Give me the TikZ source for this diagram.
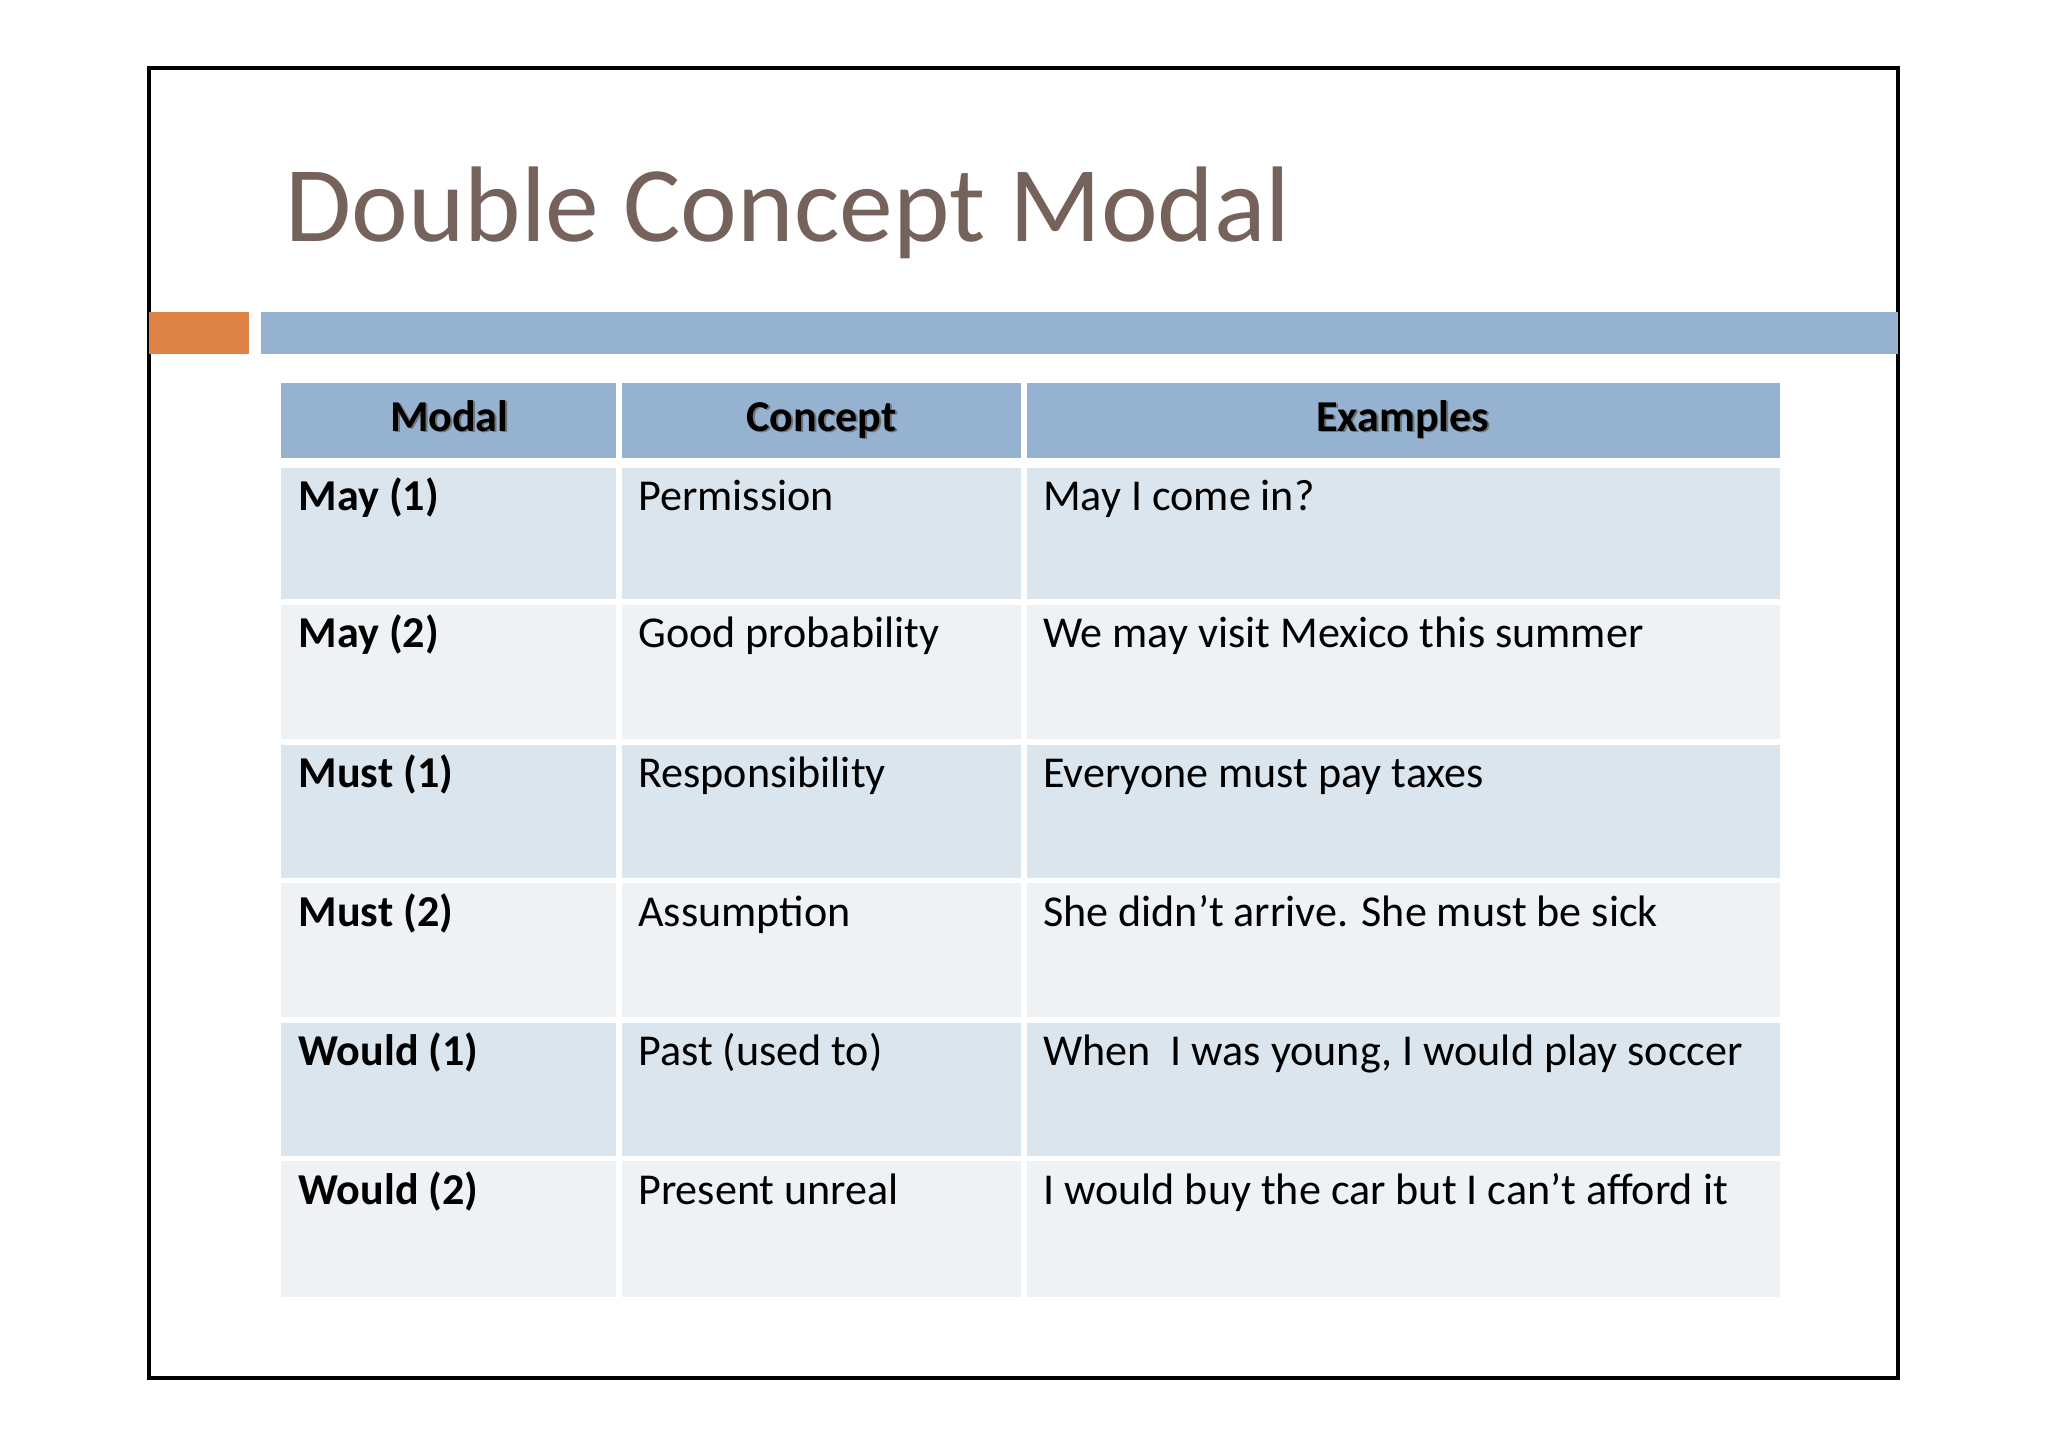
\documentclass[tikz,border=0pt]{standalone}
\usepackage{fontspec}
\setmainfont{Carlito}
\definecolor{titlebrown}{HTML}{75625A}
\definecolor{headblue}{HTML}{95B3D0}
\definecolor{rowdark}{HTML}{DBE5ED}
\definecolor{rowlight}{HTML}{EEF2F5}
\definecolor{barorange}{HTML}{DE8346}
\tikzset{
  cell/.style={draw=white,line width=1.2pt},
  body/.style={anchor=base west,inner sep=0pt,font=\fontsize{9.6pt}{11pt}\selectfont},
  head/.style={anchor=base,inner sep=0pt,font=\fontsize{9.6pt}{11pt}\selectfont\bfseries}
}
\begin{document}
\begin{tikzpicture}[x=0.01cm,y=-0.01cm]
\useasboundingbox (0,0) rectangle (1568,1108);
\draw [line width=0.9pt] (114,52) rectangle (1453,1055);
\node [anchor=base west,inner sep=0pt,text=titlebrown,font=\fontsize{23.4pt}{28pt}\selectfont] (title) at (218,185) {Double Concept Modal};
\fill [barorange] (114,239) rectangle (191,271);
\fill [headblue] (200,239) rectangle (1453,271);
% header
\fill [headblue] (215,293) rectangle (1363,351);
\draw [white,line width=1.2pt] (474,293) -- (474,351) (784,293) -- (784,351);
\foreach \x/\t [count=\i] in {344/Modal,629/Concept,1074/Examples}{
  \node [head,text=black!55] at (\x+1.5,330+1.5) {\t};
  \node [head] (h\i) at (\x,330) {\t};
}
% rows
\foreach \top/\a/\b/\c [count=\r] in {
  356/May (1)/Permission/May I come in?,
  461/May (2)/Good probability/We may visit Mexico this summer,
  568/Must (1)/Responsibility/Everyone must pay taxes,
  674/Must (2)/Assumption/{She didn’t arrive. She must be sick},
  781/Would (1)/Past (used to)/{When\ \ I was young, I would play soccer},
  887/Would (2)/Present unreal/I would buy the car but I can’t afford it}{
  \pgfmathsetmacro\bot{\top+106}
  \ifodd\r \def\fc{rowdark}\else\def\fc{rowlight}\fi
  \fill [\fc] (215,\top) rectangle (1363,\bot);
  \draw [cell] (215,\top) -- (1363,\top) (474,\top) -- (474,\bot) (784,\top) -- (784,\bot);
  \node [body,font=\fontsize{9.6pt}{11pt}\selectfont\bfseries] (m\r) at (228,\top+35) {\a};
  \node [body] (c\r) at (488,\top+35) {\b};
  \node [body] (e\r) at (798,\top+35) {\c};
}
\end{tikzpicture}
\end{document}
